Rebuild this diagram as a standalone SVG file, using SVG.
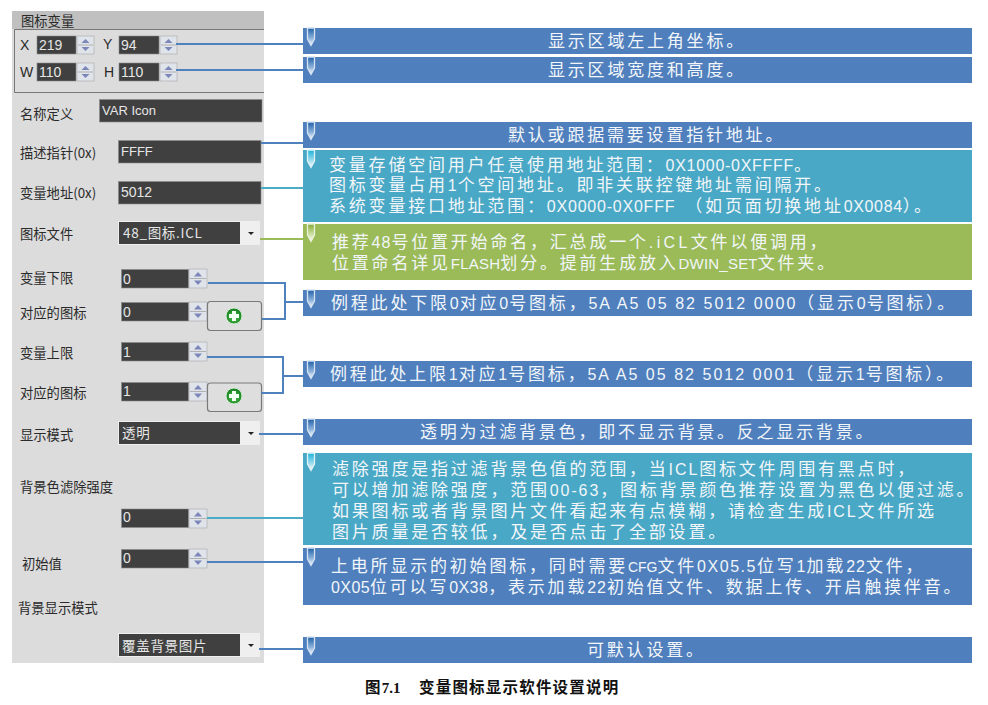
<svg xmlns="http://www.w3.org/2000/svg" width="988" height="705" viewBox="0 0 988 705">
<style>
.lb{font:13.3px "Noto Sans CJK SC","Liberation Sans",sans-serif;fill:#2a2a2a}
.la{font:14px "Liberation Sans","Noto Sans CJK SC",sans-serif;fill:#2a2a2a}
.v{font:14px "Liberation Sans","Noto Sans CJK SC",sans-serif;fill:#e6e6e6}
.vs{font:13px "Liberation Sans","Noto Sans CJK SC",sans-serif;fill:#e6e6e6}
.vc{font:13.5px "Noto Sans CJK SC","Liberation Sans",sans-serif;fill:#e6e6e6;letter-spacing:.7px}
.inp{fill:#404040;stroke:#8a8a8a;stroke-width:.6}
.spin{fill:#dfe3ea;stroke:#9a9a9a;stroke-width:.5}
.up{fill:#7c86b8}
.btn{fill:#efefef}
.tri{fill:#222}
.add{fill:#dedede;stroke:#7a7a7a;stroke-width:1.2}
.pl{fill:url(#gp);stroke:#d4ecd4;stroke-width:1}
.pc{fill:#f4fff4}
.n{font:17px "Noto Sans CJK SC",sans-serif;fill:#f2f6fa;letter-spacing:2.8px}
.m{font-family:"Liberation Sans",sans-serif;font-size:16px;letter-spacing:1px}
.k{font-family:"Liberation Sans",sans-serif;font-size:15px;letter-spacing:.2px}
.blue{fill:#4f7fbd}
.teal{fill:#49a8c5}
.green{fill:#9bbb59}
.c{fill:none;stroke:#4f81bd;stroke-width:2}
.ct{fill:none;stroke:#4bacc6;stroke-width:2}
.cg{fill:none;stroke:#9bbb59;stroke-width:2}
.cap{font:bold 15.500px "Noto Sans CJK SC","Liberation Serif",serif;fill:#111;letter-spacing:1.200px}
.cn{font:bold 15px "Liberation Serif",serif;letter-spacing:0}
</style>
<defs>
<radialGradient id="gp" cx=".5" cy=".6" r=".6"><stop offset="0" stop-color="#4fc04f"/><stop offset="1" stop-color="#127a1c"/></radialGradient>
<linearGradient id="gb" x1="0" y1="0" x2="0" y2="1"><stop offset="0" stop-color="#1f5fa8"/><stop offset=".6" stop-color="#8fb4dc"/><stop offset="1" stop-color="#ffffff"/></linearGradient>
<linearGradient id="gt" x1="0" y1="0" x2="0" y2="1"><stop offset="0" stop-color="#18b4dc"/><stop offset=".6" stop-color="#a0dcec"/><stop offset="1" stop-color="#ffffff"/></linearGradient>
<linearGradient id="gg" x1="0" y1="0" x2="0" y2="1"><stop offset="0" stop-color="#84ac3a"/><stop offset=".6" stop-color="#cfe0a4"/><stop offset="1" stop-color="#ffffff"/></linearGradient>
<path id="pinb" d="M307.500 0H314.500V11L311 17.500L307.500 11Z" fill="url(#gb)" stroke="#d4e2f2" stroke-width="1.300"/>
<path id="pint" d="M307.500 0H314.500V11L311 17.500L307.500 11Z" fill="url(#gt)" stroke="#e0f2f8" stroke-width="1.300"/>
<path id="ping" d="M307.500 0H314.500V11L311 17.500L307.500 11Z" fill="url(#gg)" stroke="#e8f0d8" stroke-width="1.300"/>
<g id="sp"><rect class="spin" width="18" height="19"/><path class="up" d="M9 3L13 7.500H5Z"/><path class="up" d="M9 16L13 11.500H5Z"/><path d="M1 9.500H17" stroke="#b0b0b0" stroke-width="1"/></g>
<g id="sps"><rect class="spin" width="17" height="18"/><path class="up" d="M8.500 3L12.500 7H4.500Z"/><path class="up" d="M8.500 15L12.500 11H4.500Z"/><path d="M1 9H16" stroke="#b0b0b0" stroke-width="1"/></g>
</defs>

<g id="panel">
<rect x="12" y="11" width="252" height="652" fill="#dcdcdc"/>
<rect x="12" y="11" width="252" height="18" fill="#c0c0c0"/>
<path d="M264 29.500H14.500V92.500H264" fill="none" stroke="#777" stroke-width="1"/>
<text class="lb" x="21" y="26">图标变量</text>
</g>

<g id="field-xy">
<text class="la" x="20" y="50">X</text><rect class="inp" x="37" y="36" width="39" height="18"/><text class="v" x="39" y="50">219</text><use href="#sps" x="77" y="36"/>
<text class="la" x="103" y="49">Y</text><rect class="inp" x="119" y="36" width="40" height="18"/><text class="v" x="121" y="50">94</text><use href="#sps" x="160" y="36"/>
</g>
<g id="field-wh">
<text class="la" x="20" y="77">W</text><rect class="inp" x="37" y="63" width="39" height="18"/><text class="v" x="39" y="77">110</text><use href="#sps" x="77" y="63"/>
<text class="la" x="104" y="77">H</text><rect class="inp" x="119" y="63" width="40" height="18"/><text class="v" x="121" y="77">110</text><use href="#sps" x="160" y="63"/>
</g>
<g id="field-name"><text class="lb" x="20" y="119">名称定义</text><rect class="inp" x="99.500" y="99.500" width="162.500" height="22.500"/><text class="vs" x="102" y="115">VAR Icon</text></g>
<g id="field-desc"><text class="lb" x="20" y="158">描述指针(0x)</text><rect class="inp" x="118.500" y="140.500" width="142.500" height="22.500"/><text class="vs" x="121" y="156">FFFF</text></g>
<g id="field-addr"><text class="lb" x="20" y="198">变量地址(0x)</text><rect class="inp" x="118.500" y="181.500" width="142.500" height="22.500"/><text class="v" x="121" y="197">5012</text></g>
<g id="field-file"><text class="lb" x="20" y="239">图标文件</text><rect class="btn" x="118" y="221" width="142" height="24"/><rect x="119" y="222" width="121" height="22" fill="#404040"/><text class="vc" x="123" y="238">48_图标.ICL</text><path class="tri" d="M248 232H254L251 235Z"/></g>
<g id="field-min"><text class="lb" x="20" y="283">变量下限</text><rect class="inp" x="121.500" y="269.500" width="67" height="18.500"/><text class="v" x="123" y="284">0</text><use href="#sp" x="189" y="269"/></g>
<g id="field-min-icon"><text class="lb" x="20" y="318">对应的图标</text><rect class="inp" x="121.500" y="302.500" width="67" height="18.500"/><text class="v" x="123" y="317">0</text><use href="#sp" x="189" y="302"/>
<rect class="add" x="207.500" y="301.500" width="54" height="29" rx="3"/><circle class="pl" cx="234" cy="316" r="8"/><path class="pc" d="M232 311h4v3h3v4h-3v3h-4v-3h-3v-4h3z"/></g>
<g id="field-max"><text class="lb" x="20" y="358">变量上限</text><rect class="inp" x="121.500" y="342.500" width="67" height="18.500"/><text class="v" x="123" y="357">1</text><use href="#sp" x="189" y="342"/></g>
<g id="field-max-icon"><text class="lb" x="20" y="398">对应的图标</text><rect class="inp" x="121.500" y="382.500" width="67" height="18.500"/><text class="v" x="123" y="396">1</text><use href="#sp" x="189" y="382"/>
<rect class="add" x="207.500" y="383" width="54" height="28.500" rx="3"/><circle class="pl" cx="234" cy="396" r="8"/><path class="pc" d="M232 391h4v3h3v4h-3v3h-4v-3h-3v-4h3z"/></g>
<g id="field-mode"><text class="lb" x="20" y="440">显示模式</text><rect class="btn" x="118" y="421" width="142" height="24"/><rect x="119" y="422" width="121" height="22" fill="#404040"/><text class="vc" x="122" y="438">透明</text><path class="tri" d="M248 432H254L251 435Z"/></g>
<g id="field-filter"><text class="lb" x="20" y="492">背景色滤除强度</text><rect class="inp" x="121.500" y="509" width="67" height="18.500"/><text class="v" x="123" y="522">0</text><use href="#sp" x="189" y="509"/></g>
<g id="field-init"><text class="lb" x="22" y="569">初始值</text><rect class="inp" x="121.500" y="549.500" width="67" height="18.500"/><text class="v" x="123" y="563">0</text><use href="#sp" x="189" y="549"/></g>
<g id="field-bg"><text class="lb" x="18" y="613">背景显示模式</text><rect class="btn" x="118" y="633" width="142" height="24"/><rect x="119" y="634" width="121" height="22" fill="#404040"/><text class="vc" x="122" y="651">覆盖背景图片</text><path class="tri" d="M248 644H254L251 647Z"/></g>

<g id="connectors">
<path class="c" d="M176 44H303"/>
<path class="c" d="M176 70H303"/>
<path class="c" d="M261 143H303"/>
<path class="ct" d="M261 188H303"/>
<path class="cg" d="M260 239H303"/>
<path class="c" d="M208 283H285V319H262M285 302H303"/>
<path class="c" d="M207 357H283V393H261M283 376H303"/>
<path class="c" d="M259 434H303"/>
<path class="ct" d="M207 518H303"/>
<path class="c" d="M207 562H303"/>
<path class="c" d="M259 649H303"/>
</g>

<g id="note1"><rect class="blue" x="303" y="28" width="669" height="26"/><use href="#pinb" y="28"/><text class="n" x="548" y="47">显示区域左上角坐标。</text></g>
<g id="note2"><rect class="blue" x="303" y="57" width="669" height="26"/><use href="#pinb" y="57"/><text class="n" x="548" y="76">显示区域宽度和高度。</text></g>
<g id="note3"><rect class="blue" x="303" y="122" width="669" height="26"/><use href="#pinb" y="122"/><text class="n" x="508" y="141">默认或跟据需要设置指针地址。</text></g>
<g id="note4"><rect class="teal" x="303" y="150" width="669" height="72"/><use href="#pint" y="150"/>
<text class="n" x="329" y="171">变量存储空间用户任意使用地址范围：<tspan class="m" textLength="128.700">0X1000-0XFFFF</tspan>。</text>
<text class="n" x="329" y="191">图标变量占用<tspan class="m">1</tspan>个空间地址。即非关联控键地址需间隔开。</text>
<text class="n" x="329" y="212">系统变量接口地址范围：<tspan class="m" textLength="128.700">0X0000-0X0FFF</tspan><tspan dx="10">（如页面切换地址</tspan><tspan class="m" textLength="59.400">0X0084</tspan>）。</text></g>
<g id="note5"><rect class="green" x="303" y="224" width="669" height="56"/><use href="#ping" y="224"/>
<text class="n" x="332" y="248">推荐<tspan class="m">48</tspan>号位置开始命名，汇总成一个<tspan class="m" textLength="39.600">.iCL</tspan>文件以便调用，</text>
<text class="n" x="332" y="269">位置命名详见<tspan class="k" textLength="49.500">FLASH</tspan>划分。提前生成放入<tspan class="k" textLength="79.200">DWIN_SET</tspan>文件夹。</text></g>
<g id="note6"><rect class="blue" x="303" y="290" width="669" height="26"/><use href="#pinb" y="290"/>
<text class="n" x="331" y="309">例程此处下限<tspan class="m">0</tspan>对应<tspan class="m">0</tspan>号图标，<tspan class="m" textLength="207.900">5A A5 05 82 5012 0000</tspan>（显示<tspan class="m">0</tspan>号图标）。</text></g>
<g id="note7"><rect class="blue" x="303" y="361" width="669" height="26"/><use href="#pinb" y="361"/>
<text class="n" x="330" y="380">例程此处上限<tspan class="m">1</tspan>对应<tspan class="m">1</tspan>号图标，<tspan class="m" textLength="207.900">5A A5 05 82 5012 0001</tspan>（显示<tspan class="m">1</tspan>号图标）。</text></g>
<g id="note8"><rect class="blue" x="303" y="419" width="669" height="26"/><use href="#pinb" y="419"/><text class="n" x="420" y="438">透明为过滤背景色，即不显示背景。反之显示背景。</text></g>
<g id="note9"><rect class="teal" x="303" y="453" width="669" height="92"/><use href="#pint" y="453"/>
<text class="n" x="332" y="475">滤除强度是指过滤背景色值的范围，当<tspan class="m" textLength="29.700">ICL</tspan>图标文件周围有黑点时，</text>
<text class="n" x="332" y="496">可以增加滤除强度，范围<tspan class="m" textLength="49.500">00-63</tspan>，图标背景颜色推荐设置为黑色以便过滤。</text>
<text class="n" x="332" y="517">如果图标或者背景图片文件看起来有点模糊，请检查生成<tspan class="m" textLength="29.700">ICL</tspan>文件所选</text>
<text class="n" x="332" y="538">图片质量是否较低，及是否点击了全部设置。</text></g>
<g id="note10"><rect class="blue" x="303" y="548" width="669" height="57"/><use href="#pinb" y="548"/>
<text class="n" x="331" y="572">上电所显示的初始图标，同时需要<tspan class="k" textLength="29.700" style="font-size:14px">CFG</tspan>文件<tspan class="m" textLength="59.400">0X05.5</tspan>位写<tspan class="m">1</tspan>加载<tspan class="m">22</tspan>文件，</text>
<text class="n" x="331" y="593"><tspan class="m" textLength="39.600">0X05</tspan>位可以写<tspan class="m" textLength="39.600">0X38</tspan>，表示加载<tspan class="m">22</tspan>初始值文件、数据上传、开启触摸伴音。</text></g>
<g id="note11"><rect class="blue" x="303" y="637" width="669" height="26"/><use href="#pinb" y="637"/><text class="n" x="587" y="656">可默认设置。</text></g>

<text id="caption" class="cap" x="365" y="693">图<tspan class="cn">7.1</tspan><tspan x="419">变量图标显示软件设置说明</tspan></text>
</svg>
